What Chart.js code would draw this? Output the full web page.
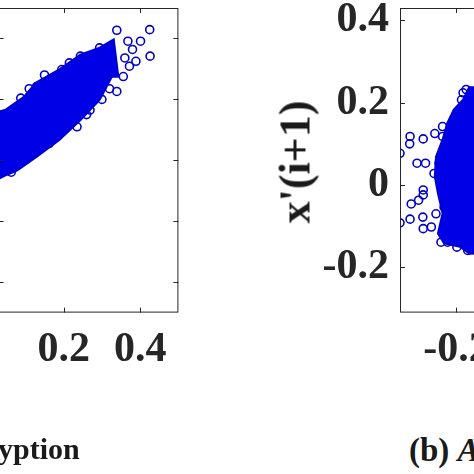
<!DOCTYPE html>
<html><head><meta charset="utf-8">
<script src="https://cdn.jsdelivr.net/npm/chart.js@4/dist/chart.umd.min.js"></script>
<style>
html,body{margin:0;padding:0;width:474px;height:474px;overflow:hidden;background:#fff;position:relative}
canvas{position:absolute}
.t{position:absolute;font-family:"Liberation Serif",serif;font-weight:bold;color:#1a1a1a;white-space:nowrap}
</style></head><body>
<canvas id="c1" style="left:-7px;top:0;width:191px;height:387px"></canvas>
<canvas id="c2" style="left:300px;top:0;width:200px;height:387px"></canvas>
<div class="t" style="left:-14px;top:368px;font-size:44px;font-weight:normal">)</div>
<div class="t" style="left:-2px;top:432px;font-size:30px">yption</div>
<div class="t" style="left:409px;top:432px;font-size:33px">(b) <i>A</i></div>
<div class="t" style="left:295px;top:162px;font-size:44px;transform:translate(-50%,-50%) rotate(-90deg)">x'(i+1)</div>
<script>
// Panel (a): x(i) vs x(i+1), highly correlated
const aXTicks=[0.2,0.4];
const aYTicks=[-0.4,-0.2,0,0.2,0.4];
const aCloudX=[0.0,0.047,0.096,0.128,0.188,0.244,0.294,0.331,0.343,0.326,0.294,0.244,0.188,0.128,0.079,0.047,0.0];
const aCloudY=[0.15,0.165,0.208,0.255,0.298,0.347,0.370,0.397,0.274,0.274,0.198,0.132,0.066,0.010,-0.033,-0.05,-0.08];
const aPtsX=[0.339,0.425,0.426,0.401,0.368,0.389,0.372,0.360,0.380,0.356,0.339,0.269,0.235,0.195,0.244,0.294,0.162,0.104,0.063,0.129,0.088,0.215,0.150,0.110,0.320,0.300,0.260,0.180];
const aPtsY=[0.427,0.429,0.342,0.391,0.391,0.325,0.309,0.336,0.364,0.275,0.226,0.165,0.110,0.298,0.342,0.369,0.055,0.005,-0.039,0.242,0.204,0.320,0.280,0.235,0.235,0.200,0.150,0.085];
// Panel (b): encrypted, uncorrelated
const bXTicks=[-0.2];
const bYTicks=[-0.2,0,0.2,0.4];
const bCloudX=[-0.166,-0.183,-0.207,-0.224,-0.236,-0.253,-0.256,-0.248,-0.236,-0.248,-0.232,-0.191,-0.166,-0.093,-0.093];
const bCloudY=[0.240,0.207,0.183,0.150,0.110,0.069,0.020,-0.020,-0.069,-0.118,-0.142,-0.150,-0.167,-0.166,0.240];
const bPtsX=[-0.346,-0.321,-0.320,-0.286,-0.302,-0.280,-0.245,-0.258,-0.286,-0.286,-0.317,-0.298,-0.346,-0.320,-0.287,-0.286,-0.265,-0.253,-0.232,-0.236,-0.236,-0.256,-0.183,-0.175,-0.187,-0.183,-0.171,-0.199,-0.223,-0.240,-0.215];
const bPtsY=[0.077,0.100,0.118,0.112,0.053,0.053,0.053,0.028,-0.012,-0.024,-0.046,-0.037,-0.092,-0.083,-0.078,-0.106,-0.102,-0.070,-0.054,0.142,0.118,0.125,0.224,0.232,0.207,0.162,-0.159,-0.151,-0.139,-0.139,-0.118];

const zip=(xs,ys)=>xs.map((x,i)=>({x,y:ys[i]}));
const boxPlugin={id:'box',afterDraw(ch,a,o){
  const c=ch.ctx,ca=ch.chartArea,sx=ch.scales.x,sy=ch.scales.y;
  c.save();c.strokeStyle='#262626';c.lineWidth=1;
  c.strokeRect(ca.left+0.5,ca.top+0.5,ca.right-ca.left-1,ca.bottom-ca.top-1);
  c.beginPath();
  o.xt.forEach(v=>{const p=Math.round(sx.getPixelForValue(v))+0.5;c.moveTo(p,ca.top);c.lineTo(p,ca.top+5);c.moveTo(p,ca.bottom);c.lineTo(p,ca.bottom-5);});
  o.yt.forEach(v=>{const p=Math.round(sy.getPixelForValue(v))+0.5;c.moveTo(ca.left,p);c.lineTo(ca.left+5,p);c.moveTo(ca.right,p);c.lineTo(ca.right-5,p);});
  c.stroke();c.restore();}};
const tickFont={family:'"Liberation Serif", serif',weight:'bold',size:42};
function make(id,cx,cy,px,py,xr,yr,xt,yt,showY){
  return new Chart(document.getElementById(id),{type:'scatter',
    data:{datasets:[
      {data:zip(cx,cy),showLine:true,fill:'shape',backgroundColor:'#0000e6',borderColor:'#0000d0',borderWidth:2,pointRadius:0},
      {data:zip(px,py),pointRadius:4,pointBorderWidth:1.6,pointBorderColor:'#0000c8',pointBackgroundColor:'rgba(0,0,0,0)'}]},
    options:{responsive:false,animation:false,devicePixelRatio:1,
      layout:{padding:{top:8,right:showY?0:1,left:0,bottom:0}},
      plugins:{legend:{display:false},tooltip:{enabled:false},box:{xt,yt}},
      scales:{
        x:{type:'linear',min:xr[0],max:xr[1],afterBuildTicks:s=>{s.ticks=xt.map(v=>({value:v}));},
           afterFit:s=>{s.paddingLeft=0;s.paddingRight=0;},
           grid:{display:false,drawTicks:false},border:{display:false},
           ticks:{font:tickFont,color:'#262626',padding:12,maxRotation:0,autoSkip:false}},
        y:{type:'linear',min:yr[0],max:yr[1],display:showY,afterBuildTicks:s=>{s.ticks=yt.map(v=>({value:v}));},
           afterFit:s=>{if(showY)s.width=100;s.paddingTop=0;s.paddingBottom=0;},
           grid:{display:false,drawTicks:false},border:{display:false},
           ticks:{font:tickFont,color:'#262626',padding:11,autoSkip:false}}}},
    plugins:[boxPlugin]});
}
document.getElementById('c1').width=191;document.getElementById('c1').height=387;
document.getElementById('c2').width=200;document.getElementById('c2').height=387;
make('c1',aCloudX,aCloudY,aPtsX,aPtsY,[0.03,0.5],[-0.5,0.5],aXTicks,aYTicks,false);
make('c2',bCloudX,bCloudY,bPtsX,bPtsY,[-0.346,-0.102],[-0.31,0.43],bXTicks,bYTicks,true);
</script></body></html>
